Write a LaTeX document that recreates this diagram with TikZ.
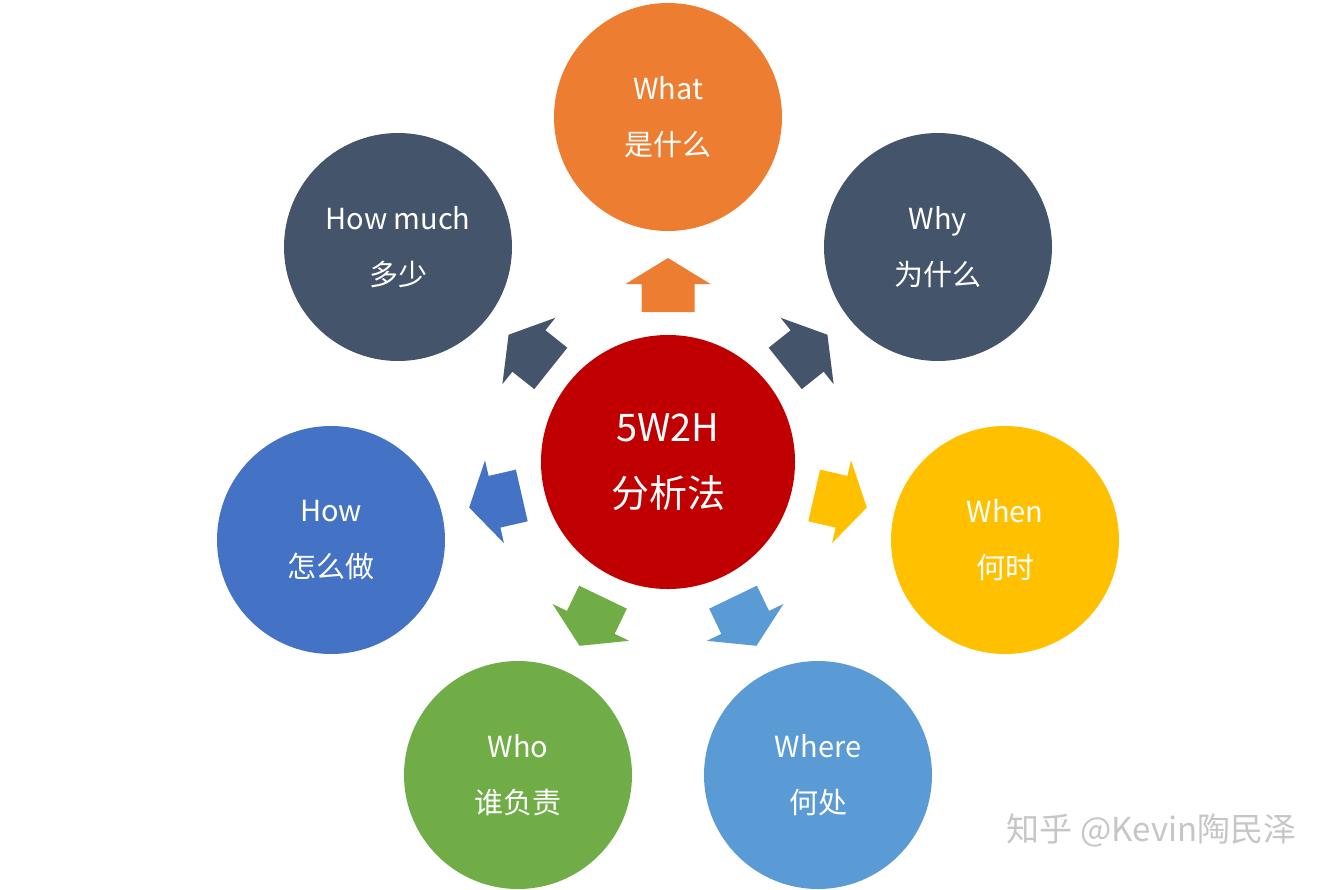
\documentclass[tikz,border=0pt]{standalone}
\usepackage{fontspec}
\setmainfont{Noto Sans CJK SC}
\begin{document}
\begin{tikzpicture}[x=1pt,y=-1pt,
  circ/.style={circle,minimum size=228pt,inner sep=0pt,draw=none,text=white,align=center,font=\fontsize{29}{56}\selectfont},
  ar/.pic={\fill[#1] (150,-26.5)--(178,-26.5)--(178,-42.5)--(204,0)--(178,42.5)--(178,26.5)--(150,26.5)--cycle;}]
\definecolor{cor}{HTML}{ED7D31}
\definecolor{cdk}{HTML}{44546A}
\definecolor{cye}{HTML}{FFC000}
\definecolor{clb}{HTML}{5B9BD5}
\definecolor{cgr}{HTML}{70AD47}
\definecolor{cbl}{HTML}{4472C4}
\definecolor{cre}{HTML}{C00000}
\useasboundingbox (0,0) rectangle (1335,889);
\coordinate (c) at (668,462);
\node[circ,fill=cre,minimum size=254pt,font=\fontsize{38}{66}\selectfont] (center) at (c) {5W2H\\分析法};
\node[circ,fill=cor] (what) at (668,117) {What\\是什么};
\node[circ,fill=cdk] (why) at (938,247) {Why\\为什么};
\node[circ,fill=cye] (when) at (1005,540) {When\\何时};
\node[circ,fill=clb] (where) at (818,775) {Where\\何处};
\node[circ,fill=cgr] (who) at (518,775) {Who\\谁负责};
\node[circ,fill=cbl] (how) at (331,540) {How\\怎么做};
\node[circ,fill=cdk] (howmuch) at (398,247) {How much\\多少};
\foreach \a/\col in {-90/cor,-38.6/cdk,12.9/cye,64.3/clb,115.7/cgr,167.1/cbl,218.6/cdk}
  \pic[shift={(c)},rotate=-\a] {ar=\col};
\node[text=gray!45,font=\fontsize{33}{33}\selectfont,anchor=east] (wm) at (1300,830) {知乎 @Kevin陶民泽};
\end{tikzpicture}
\end{document}
